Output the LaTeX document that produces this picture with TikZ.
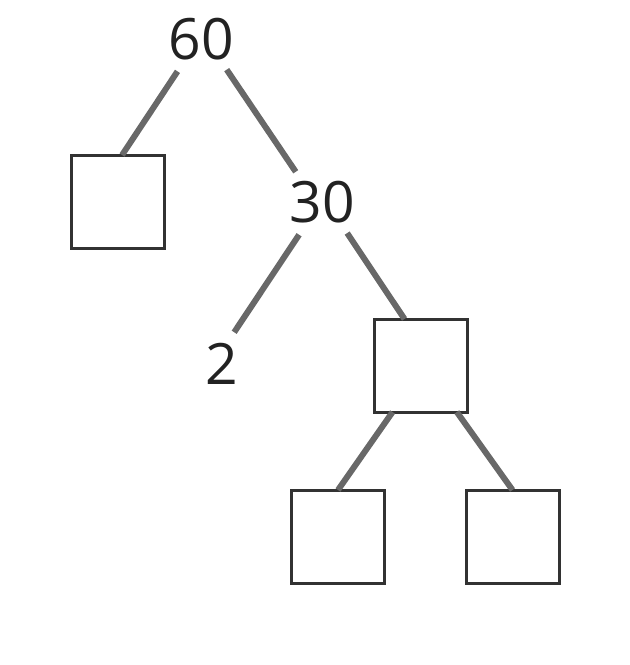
\documentclass[tikz,border=0pt]{standalone}
\usepackage{fontspec}
\setmainfont{Open Sans}
\usetikzlibrary{positioning}
\definecolor{linegray}{RGB}{104,104,104}
\definecolor{boxdark}{RGB}{50,50,50}
\definecolor{numdark}{RGB}{34,34,34}

\begin{document}
\begin{tikzpicture}[x=1pt,y=-1pt,
	num/.style={circle,minimum size=80pt,inner sep=0pt,outer sep=0pt,text=numdark,font=\fontsize{57}{60}\selectfont},
	blank/.style={draw=boxdark,line width=3pt,minimum size=93pt,inner sep=0pt,outer sep=0pt},
	branch/.style={draw=linegray,line width=6pt},
	]
	\useasboundingbox (0,0) rectangle (630,665);
	
	%numbers.....................
	\node [num] (n60) at (201,39) {60};
	\node [num] (n30) at (322,202) {30};
	\node [num,minimum size=68pt] (n2) at (222,364) {2};
	
	%empty boxes..................
	\node [blank] (b1) at (118,201.5) {};
	\node [blank] (b2) at (420.5,365.5) {};
	\node [blank] (b3) at (338,536.5) {};
	\node [blank] (b4) at (512.5,536.5) {};
	
	%branches.....................
	\draw [branch] (n60.-126) -- (b1.85);
	\draw [branch] (n60.-50) -- (n30.131);
	\draw [branch] (n30.-125) -- (n2.69);
	\draw [branch] (n30.-51) -- (b2.109);
	\draw [branch] (b2.-121) -- (b3.north);
	\draw [branch] (b2.-52) -- (b4.north);
	
\end{tikzpicture}
\end{document}
